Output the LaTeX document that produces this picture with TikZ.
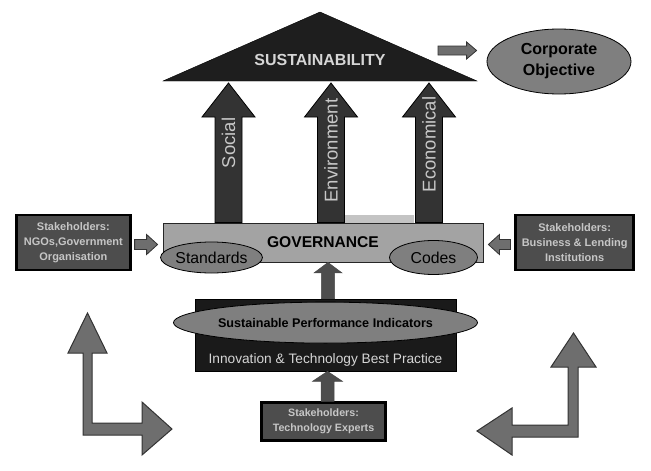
\documentclass[tikz,border=0pt]{standalone}
\usepackage{fontspec}
\setmainfont{Liberation Sans}
\usetikzlibrary{positioning, shapes.geometric, calc}
\definecolor{roofgray}{HTML}{1E1E1E}
\definecolor{rooftext}{HTML}{D6D6D6}
\definecolor{pillargray}{HTML}{333333}
\definecolor{pillartext}{HTML}{C8C8C8}
\definecolor{govgray}{HTML}{A3A3A3}
\definecolor{ellgray}{HTML}{7F7F7F}
\definecolor{stakegray}{HTML}{4D4D4D}
\definecolor{staketext}{HTML}{C6C6C6}
\definecolor{spigray}{HTML}{1A1A1A}
\definecolor{arrowgray}{HTML}{6E6E6E}
\definecolor{conngray}{HTML}{4D4D4D}
\definecolor{stripgray}{HTML}{C4C4C4}
\tikzset{
  upblock/.style n args={3}{to path={let \p1=(\tikztostart), \p2=(\tikztotarget) in
    (\x1-#1,\y1) -- (\x1-#1,\y2-#3) -- (\x1-#2,\y2-#3) -- (\x1,\y2)
    -- (\x1+#2,\y2-#3) -- (\x1+#1,\y2-#3) -- (\x1+#1,\y1) -- cycle}},
  rightblock/.style n args={3}{to path={let \p1=(\tikztostart), \p2=(\tikztotarget) in
    (\x1,\y1-#1) -- (\x2-#3,\y1-#1) -- (\x2-#3,\y1-#2) -- (\x2,\y1)
    -- (\x2-#3,\y1+#2) -- (\x2-#3,\y1+#1) -- (\x1,\y1+#1) -- cycle}},
  leftblock/.style n args={3}{to path={let \p1=(\tikztostart), \p2=(\tikztotarget) in
    (\x1,\y1-#1) -- (\x2+#3,\y1-#1) -- (\x2+#3,\y1-#2) -- (\x2,\y1)
    -- (\x2+#3,\y1+#2) -- (\x2+#3,\y1+#1) -- (\x1,\y1+#1) -- cycle}},
  pillar/.style={draw=black, line width=0.8pt, fill=pillargray},
  pillarlbl/.style={rotate=90, text=pillartext, font=\fontsize{18.5}{22}\selectfont},
  smallarrow/.style={draw=black!80, line width=0.8pt, fill=arrowgray},
  connarrow/.style={draw=black!70, line width=0.5pt, fill=conngray},
  lblock/.style={draw=black!80, line width=1pt, fill=arrowgray},
  stakebox/.style={draw=black, line width=2.5pt, fill=stakegray, text=staketext,
    font=\bfseries\fontsize{11}{15}\selectfont, align=center},
  tagell/.style={ellipse, draw=black, line width=0.8pt, fill=ellgray, inner sep=0pt},
}
\begin{document}
\begin{tikzpicture}[x=1pt, y=-1pt]
  \useasboundingbox (0,0) rectangle (651,471);

  \fill[stripgray] (345,215) rectangle (414,223);

  \node[draw=black!85, line width=0.8pt, fill=govgray, minimum width=320pt, minimum height=39pt,
        font=\bfseries\fontsize{15.6}{18}\selectfont] (gov) at (323,242.5) {GOVERNANCE};
  \node[tagell, minimum width=87pt, minimum height=31pt, font=\fontsize{15.8}{18}\selectfont]
        (std) at (211.5,257.5) {Standards};
  \node[tagell, minimum width=88pt, minimum height=34pt, font=\fontsize{15.8}{18}\selectfont]
        (codes) at (433.5,257.5) {Codes};

  \node[stakebox, minimum width=114pt, minimum height=55pt, left=31pt of gov] (ngo)
        {Stakeholders:\\NGOs,Government\\Organisation};
  \node[stakebox, minimum width=118pt, minimum height=55pt, right=31pt of gov] (biz)
        {Stakeholders:\\Business \& Lending\\Institutions};

  \node[draw=black, fill=spigray, minimum width=261pt, minimum height=72pt,
        below=36.5pt of gov, xshift=2.5pt] (spi) {};
  \node[tagell, minimum width=247pt, minimum height=41pt, font=\bfseries\fontsize{12.6}{15}\selectfont]
        (spiell) at ([yshift=12.5pt]spi.center) {Sustainable Performance Indicators};
  \node[text=rooftext, font=\fontsize{13.7}{16}\selectfont] (itbp) at ([yshift=-25pt]spi.center)
        {Innovation \& Technology Best Practice};

  \node[stakebox, minimum width=124pt, minimum height=38pt, font=\bfseries\fontsize{10.7}{15}\selectfont,
        below=30pt of spi, xshift=-2pt] (tech) {Stakeholders:\\Technology Experts};

  \draw[fill=roofgray, draw=black] (163,81) -- (320,12) -- (477,81) -- cycle;
  \node[text=rooftext, font=\bfseries\fontsize{16}{19}\selectfont] (sust) at (320,60) {SUSTAINABILITY};
  \coordinate (roofbase) at (320,83);
  \coordinate (roofout) at (438,50.5);

  \node[ellipse, draw=black, line width=0.8pt, fill=ellgray, minimum width=144pt, minimum height=65pt,
        align=center, font=\bfseries\fontsize{16}{21}\selectfont] (corp) at (559,61.5) {Corporate\\Objective};

  \coordinate (soc) at (228.5,143);
  \coordinate (env) at (331,150.5);
  \coordinate (eco) at (429,144.5);

  \draw[upblock={13.5pt}{26.5pt}{34pt}, pillar] (gov.north -| soc) to (roofbase -| soc);
  \draw[upblock={13.5pt}{26.5pt}{34pt}, pillar] (gov.north -| env) to (roofbase -| env);
  \draw[upblock={13.5pt}{26.5pt}{34pt}, pillar] (gov.north -| eco) to (roofbase -| eco);
  \node[pillarlbl] (soclbl) at (soc) {Social};
  \node[pillarlbl] (envlbl) at (env) {Environment};
  \node[pillarlbl] (ecolbl) at (eco) {Economical};

  \draw[rightblock={4.5pt}{8.5pt}{10pt}, smallarrow] (roofout) to ([xshift=-10pt]corp.west);
  \draw[rightblock={5pt}{10pt}{11pt}, smallarrow] ([shift={(3pt,-2pt)}]ngo.east) to ([xshift=-5pt]gov.west);
  \draw[leftblock={5pt}{10pt}{11pt}, smallarrow] ([shift={(-4pt,-2pt)}]biz.west) to ([xshift=5pt]gov.east);
  \draw[upblock={6.7pt}{14pt}{10.5pt}, connarrow] ([xshift=2.5pt]spi.north) to (gov.south);
  \draw[upblock={6.5pt}{15pt}{10pt}, connarrow] ([xshift=4pt]tech.north) to (spi.south);

  \draw[lblock] (83,353) -- (68,353) -- (87.5,313) -- (107,353) -- (92,353) -- (92,423)
    -- (142,423) -- (142,402) -- (172,429) -- (142,455) -- (142,435) -- (83,435) -- cycle;
  \draw[lblock] (568,367) -- (551,367) -- (573.5,333) -- (596,367) -- (578,367) -- (578,437)
    -- (512,437) -- (512,455) -- (477,431) -- (512,408) -- (512,425) -- (568,425) -- cycle;
\end{tikzpicture}
\end{document}
